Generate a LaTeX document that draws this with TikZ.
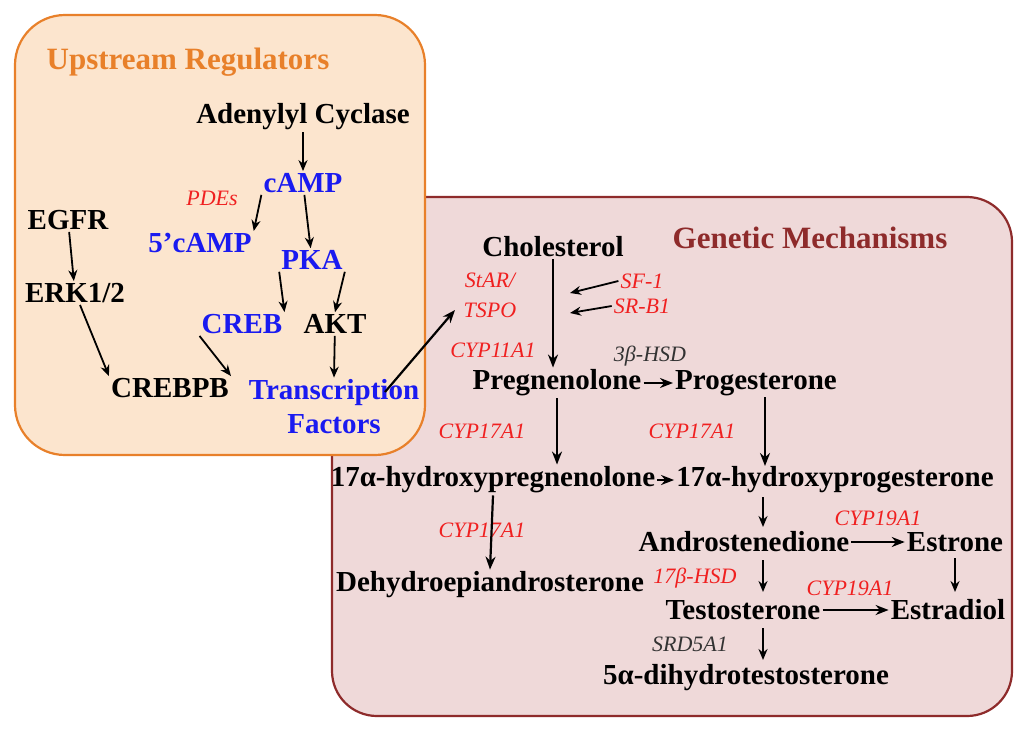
\documentclass[tikz,border=0pt]{standalone}
\usepackage{fontspec}
\setmainfont{Liberation Serif}
\usetikzlibrary{arrows.meta}
\definecolor{obox}{HTML}{FCE5CE}
\definecolor{oline}{HTML}{E8802A}
\definecolor{rbox}{HTML}{EFD9D9}
\definecolor{rline}{HTML}{8E2B2B}
\definecolor{bl}{HTML}{1A1AF0}
\definecolor{rd}{HTML}{F02020}
\begin{document}
\begin{tikzpicture}[x=1pt,y=-1pt,
 t/.style={font=\fontsize{29}{32}\selectfont\bfseries,inner sep=2pt},
 b/.style={t,text=bl},
 e/.style={font=\fontsize{22}{26}\selectfont\itshape,text=rd,inner sep=2pt},
 g/.style={e,text=black!80},
 a/.style={-{Stealth[length=13pt,width=10pt]},line width=2.2pt},
 s/.style={-{Stealth[length=11pt,width=9pt]},line width=1.8pt}]
\useasboundingbox (0,0) rectangle (1024,734);
\draw[rline,line width=2.2pt,fill=rbox,rounded corners=45pt] (332,197) rectangle (1012,716);
\draw[oline,line width=2.2pt,fill=obox,rounded corners=50pt] (15,15) rectangle (425,455);
\node[t,text=oline,font=\fontsize{31}{33}\selectfont\bfseries] at (188,62) {Upstream Regulators};
\node[t,text=rline,font=\fontsize{31}{33}\selectfont\bfseries] at (810,238) {Genetic Mechanisms};
\node[t] (ac) at (303,117) {Adenylyl Cyclase};
\node[b] (camp) at (303,183) {cAMP};
\node[e] (pdes) at (212,198) {PDEs};
\node[b] (c5) at (200,243) {5’cAMP};
\node[b] (pka) at (312,260) {PKA};
\node[t] (egfr) at (68,220) {EGFR};
\node[t] (erk) at (75,293) {ERK1/2};
\node[b] (creb) at (242,324) {CREB};
\node[t] (akt) at (335,324) {AKT};
\node[t] (crebpb) at (170,388) {CREBPB};
\node[b,align=center,font=\fontsize{29}{34}\selectfont\bfseries] (tf) at (334,407) {Transcription\\Factors};
\node[t] (chol) at (553,247) {Cholesterol};
\node[e,align=center,font=\fontsize{22}{30}\selectfont\itshape] (star) at (490,295) {StAR/\\TSPO};
\node[e] (sf1) at (642,281) {SF-1};
\node[e] (srb1) at (642,306) {SR-B1};
\node[e] (c11) at (493,350) {CYP11A1};
\node[g] (hsd3) at (650,356) {3β-HSD};
\node[t] (preg) at (557,383) {Pregnenolone};
\node[t] (prog) at (756,383) {Progesterone};
\node[e] at (482,431) {CYP17A1};
\node[e] at (692,431) {CYP17A1};
\node[t] (ohpreg) at (493,480) {17α-hydroxypregnenolone};
\node[t] (ohprog) at (835,480) {17α-hydroxyprogesterone};
\node[e] at (482,530) {CYP17A1};
\node[t] (andro) at (744,542) {Androstenedione};
\node[e] at (878,518) {CYP19A1};
\node[t] (estrone) at (955,542) {Estrone};
\node[t] (dhea) at (490,585) {Dehydroepiandrosterone};
\node[e] at (695,578) {17β-HSD};
\node[t] (testo) at (743,610) {Testosterone};
\node[e] at (850,588) {CYP19A1};
\node[t] (estra) at (948,610) {Estradiol};
\node[g] at (690,644) {SRD5A1};
\node[t] (dht) at (746,678) {5α-dihydrotestosterone};
% upstream arrows
\draw[s] (ac) -- (camp);
\draw[s] (camp.south west) -- (c5.north east);
\draw[s] (camp) -- (pka);
\draw[s] (egfr) -- (erk);
\draw[s] (erk.south) ++(5,0) -- (crebpb.north west);
\draw[s] (pka.south west) -- (creb.north east);
\draw[s] (pka.south east) -- (akt.north);
\draw[s] (creb.south west) -- (crebpb.north east);
\draw[s] (akt) -- (tf.north);
\draw[a] (385,392) -- (455,310);
% genetic arrows
\draw[a] (chol.south) -- (chol.south |- preg.north);
\draw[s] (sf1.west) -- (570,293);
\draw[s] (srb1.west) -- (570,313);
\draw[a] (preg) -- (prog);
\draw[a] (765,397) -- (765,466);
\draw[a] (preg.south) -- (preg.south |- ohpreg.north);
\draw[a] (ohpreg) -- (ohprog);
\draw[a] (ohpreg.south) -- (dhea.north);
\draw[s] (763,497) -- (763,527);
\draw[a] (andro) -- (estrone);
\draw[s] (955,558) -- (955,592);
\draw[s] (763,560) -- (763,592);
\draw[a] (testo) -- (estra);
\draw[s] (763,628) -- (763,660);
\end{tikzpicture}
\end{document}
